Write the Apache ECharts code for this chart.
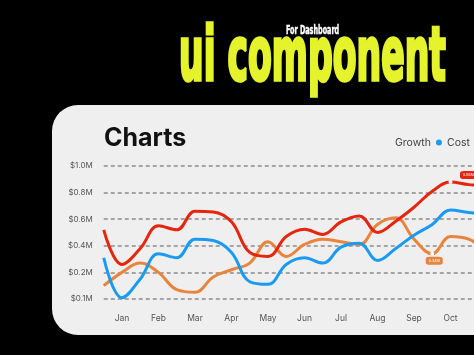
<!DOCTYPE html>
<html><head><meta charset="utf-8">
<script src="https://cdn.jsdelivr.net/npm/echarts@6/dist/echarts.min.js"></script>
<style>html,body{margin:0;padding:0;background:#000;}#c{width:474px;height:355px;}</style>
</head><body><div id="c"></div>
<script>
// half-month sample positions (month labels on whole months)
const categories = ['', 'Jan', '', 'Feb', '', 'Mar', '', 'Apr', '', 'May', '', 'Jun', '', 'Jul', '', 'Aug', '', 'Sep', '', 'Oct', '', ''];
const yTickLabels = ['$0.1M', '$0.2M', '$0.4M', '$0.6M', '$0.8M', '$1.0M'];
const growth = [0.52, 0.26, 0.38, 0.55, 0.52, 0.66, 0.655, 0.58, 0.35, 0.32, 0.47, 0.525, 0.485, 0.58, 0.625, 0.50, 0.585, 0.69, 0.81, 0.88, 0.86, 0.855];
const cost   = [0.31, 0.01, 0.15, 0.34, 0.31, 0.45, 0.44, 0.35, 0.13, 0.11, 0.26, 0.31, 0.27, 0.39, 0.42, 0.29, 0.38, 0.48, 0.56, 0.67, 0.65, 0.64];
const other  = [0.10, 0.20, 0.27, 0.20, 0.07, 0.05, 0.165, 0.22, 0.27, 0.43, 0.32, 0.41, 0.45, 0.43, 0.41, 0.56, 0.61, 0.45, 0.34, 0.47, 0.45, 0.35];
const growthTagIdx = 19, growthTag = '0.86M';
const otherTagIdx = 18, otherTag = '0.34M';

const chart = echarts.init(document.getElementById('c'));
function tag(series, idx, text, color, off) {
  return [
    {coord: [idx, series[idx]], symbol: 'circle', symbolSize: 4, itemStyle: {color: '#fff'}, label: {show: false}},
    {coord: [idx, series[idx]], symbol: 'roundRect', symbolSize: [17, 8], symbolOffset: off,
     itemStyle: {color: color}, label: {show: true, formatter: text, color: '#fff', fontSize: 4, position: 'inside'}}
  ];
}
chart.setOption({
  backgroundColor: '#000',
  animation: false,
  graphic: [
    {type: 'rect', shape: {x: 52, y: 105, width: 470, height: 230, r: 26}, style: {fill: '#efefef'}, z: -10},
    {type: 'text', x: 286, y: 31, scaleX: 0.55, style: {text: 'For Dashboard', font: 'bold 13px "DejaVu Sans Condensed"', fill: '#fff', stroke: '#fff', lineWidth: 0.5, textVerticalAlign: 'middle'}},
    {type: 'text', x: 179, y: 61, scaleX: 0.52, style: {text: 'ui component', font: 'bold 74px "DejaVu Sans Condensed"', fill: '#e4f32b', stroke: '#e4f32b', lineWidth: 3.5, textVerticalAlign: 'middle'}},
    {type: 'text', x: 104, y: 138, style: {text: 'Charts', font: 'bold 25px Inter', fill: '#111', textVerticalAlign: 'middle'}}
  ],
  legend: {
    left: 379, top: 132, width: 200, itemWidth: 6, itemHeight: 6, itemGap: 5, icon: 'circle',
    textStyle: {fontFamily: 'Inter', fontSize: 10.5, color: '#444'},
    data: [{name: 'Growth', itemStyle: {opacity: 0}}, {name: 'Cost'}]
  },
  grid: {left: 103.75, right: -13, top: 166, bottom: 56, containLabel: false, outerBoundsMode: 'none'},
  xAxis: {
    type: 'category', data: categories, boundaryGap: false,
    axisLine: {show: false}, axisTick: {show: false},
    axisLabel: {interval: 0, margin: 15, fontFamily: 'Inter', fontSize: 8.5, color: '#555'}
  },
  yAxis: {
    type: 'value', min: 0, max: 1, interval: 0.2,
    axisLabel: {formatter: v => yTickLabels[Math.round(v / 0.2)], margin: 11, fontFamily: 'Inter', fontSize: 8, color: '#555'},
    splitLine: {lineStyle: {color: '#8c8c8c', width: 1.5, type: [4, 3]}}
  },
  series: [
    {name: 'Other', type: 'line', data: other, smooth: 0.4, showSymbol: false, color: '#e8843c', lineStyle: {width: 3},
     markPoint: {data: tag(other, otherTagIdx, otherTag, '#e8843c', [2, 7])}},
    {name: 'Cost', type: 'line', data: cost, smooth: 0.4, showSymbol: false, color: '#1b9bef', lineStyle: {width: 3}},
    {name: 'Growth', type: 'line', data: growth, smooth: 0.4, showSymbol: false, color: '#e5260f', lineStyle: {width: 3},
     markPoint: {data: tag(growth, growthTagIdx, growthTag, '#e5260f', [18, -7])}}
  ]
});
</script></body></html>
